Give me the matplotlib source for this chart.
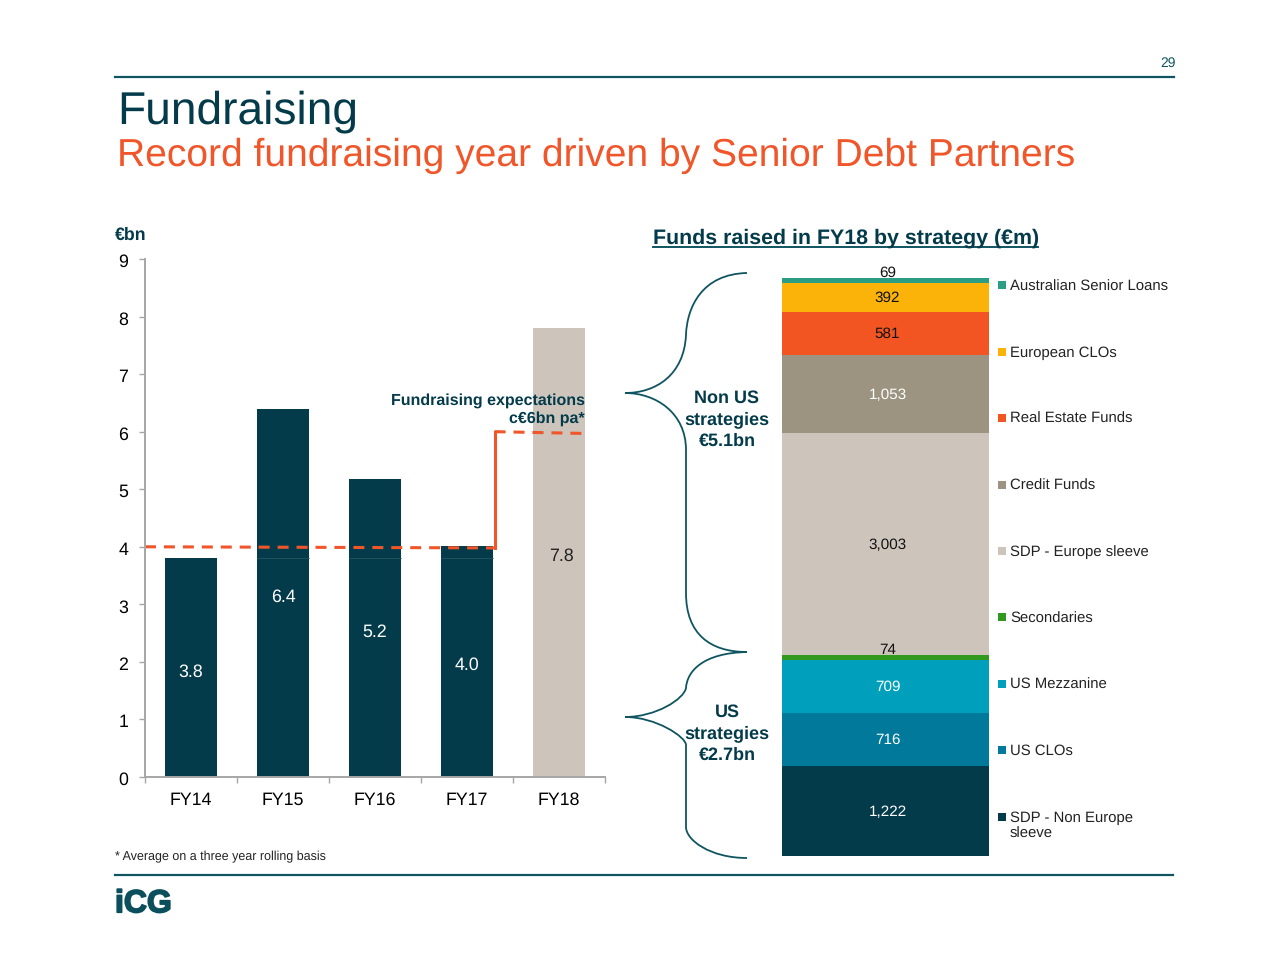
import matplotlib
matplotlib.use('Agg')
import matplotlib.pyplot as plt
import matplotlib.patheffects as pe
from matplotlib.path import Path
from matplotlib.patches import PathPatch, Rectangle
from matplotlib.transforms import ScaledTranslation

plt.rcParams['font.family'] = ['Liberation Sans', 'DejaVu Sans']
plt.rcParams['text.hinting'] = 'no_hinting'

# left chart
years = ['FY14', 'FY15', 'FY16', 'FY17', 'FY18']
raised = [3.8, 6.4, 5.18, 4.02, 7.8]
raised_labels = ['3.8', '6.4', '5.2', '4.0', '7.8']
expect_old_x = [-0.5, 3.3]
expect_old_y = [4.0, 3.98]
expect_new_x = [3.3, 4.25]
expect_new_y = [6.0, 5.97]

# right stacked bar, bottom to top
strategies = ['SDP - Non Europe\nsleeve', 'US CLOs', 'US Mezzanine', 'Secondaries',
              'SDP - Europe sleeve', 'Credit Funds', 'Real Estate Funds',
              'European CLOs', 'Australian Senior Loans']
amounts = [1222, 716, 709, 74, 3003, 1053, 581, 392, 69]
amount_colors = ['#033b4a', '#00799a', '#00a0bc', '#2f9a1e', '#cdc5bc',
                 '#9c9480', '#f25522', '#fbb309', '#2a9d84']
amount_text = ['#ffffff', '#ffffff', '#ffffff', '#111111', '#111111',
               '#ffffff', '#111111', '#111111', '#111111']

DARK = '#033b4a'
TEAL = '#0f5560'
ORANGE = '#f0562a'
W, H = 1280, 960


def px_axes(fig, x0, y0, x1, y1):
    """Axes from pixel corners, y counted from the top of the slide."""
    return fig.add_axes([x0 / W, 1 - y1 / H, (x1 - x0) / W, (y1 - y0) / H])


def brace(ax, top, shoulder, tip, hip, knee, bottom):
    """Curly brace opening to the right, tip pointing left."""
    x, tip_x, end_x = 686, 625, 747
    verts = [(end_x, top),
             (x + 16, top + 1), (x + 1, top + (shoulder - top) * 0.55), (x, shoulder),
             (x - 2, tip - 18), (x - 30, tip), (tip_x, tip),
             (x - 30, tip), (x, tip + 20), (x, hip),
             (x, knee),
             (x, bottom - 18), (x + 24, bottom), (end_x, bottom)]
    codes = [Path.MOVETO,
             Path.CURVE4, Path.CURVE4, Path.CURVE4,
             Path.CURVE4, Path.CURVE4, Path.CURVE4,
             Path.CURVE4, Path.CURVE4, Path.CURVE4,
             Path.LINETO,
             Path.CURVE4, Path.CURVE4, Path.CURVE4]
    ax.add_patch(PathPatch(Path(verts, codes), fc='none', ec=TEAL, lw=1.3))


fig = plt.figure(figsize=(12.8, 9.6), dpi=100)

# slide furniture, in pixels
page = fig.add_axes([0, 0, 1, 1])
page.set_xlim(0, W)
page.set_ylim(H, 0)
page.axis('off')
page.plot([115, 1174], [76.5, 76.5], color=TEAL, lw=1.6)
page.plot([115, 1173], [875, 875], color=TEAL, lw=1.6)
page.text(1176, 63, '29', color=TEAL, fontsize=10, ha='right', va='center')
page.text(117, 112, 'Fundraising', color=DARK, fontsize=33.2, va='center')
page.text(117, 156, 'Record fundraising year driven by Senior Debt Partners',
          color=ORANGE, fontsize=28.1, va='center')
page.text(115, 235, '€bn', color=DARK, fontsize=12.8, weight='bold', va='center')
page.text(653, 238, 'Funds raised in FY18 by strategy (€m)', color=DARK,
          fontsize=15.4, weight='bold', va='center')
page.plot([653, 1038], [247, 247], color=TEAL, lw=1.4)
page.text(115, 857, '* Average on a three year rolling basis', color='#222222',
          fontsize=9, va='center')
page.text(115, 904, 'iCG', color='#0b4f5c', fontsize=23, weight='bold', va='center',
          path_effects=[pe.withStroke(linewidth=1.2, foreground='#0b4f5c')])

brace(page, 273, 335, 393, 450, 593, 652)
brace(page, 652, 688, 717, 745, 827, 858)
page.text(727, 420, 'Non US\nstrategies\n€5.1bn', color=DARK, fontsize=13,
          weight='bold', ha='center', va='center', linespacing=1.36)
page.text(727, 734, 'US\nstrategies\n€2.7bn', color=DARK, fontsize=13,
          weight='bold', ha='center', va='center', linespacing=1.36)

# bar chart
ax = px_axes(fig, 145, 259, 605, 777)
ax.patch.set_alpha(0)
colors = [DARK] * 4 + ['#cdc5bc']
bars = ax.bar(range(5), raised, width=0.57, color=colors)
ax.set_xlim(-0.5, 4.5)
ax.set_ylim(0, 9)
ax.set_xticks([i - 0.5 for i in range(6)])
ax.set_xticklabels([])
ax.set_xticks(range(5), minor=True)
ax.set_xticklabels(years, minor=True, fontsize=12.8)
ax.tick_params(axis='x', which='minor', length=0, pad=11)
ax.tick_params(axis='both', which='major', length=4, width=1, color='#a6a6a6')
ax.tick_params(axis='y', labelsize=12.8, pad=8)
# y tick labels sit a touch below their ticks on the slide
nudge = ScaledTranslation(0, -1.5 / 100, fig.dpi_scale_trans)
for lab in ax.get_yticklabels():
    lab.set_transform(lab.get_transform() + nudge)
for side in ('top', 'right'):
    ax.spines[side].set_visible(False)
for side in ('left', 'bottom'):
    ax.spines[side].set_color('#a6a6a6')
    ax.spines[side].set_linewidth(1.4)
for i, (val, lab) in enumerate(zip(raised, raised_labels)):
    is_last = i == len(raised) - 1
    ax.text(i + (0.03 if is_last else 0), val / 2 - 0.07, lab, ha='center', va='center',
            fontsize=12.8, color='#222222' if is_last else 'white')

# faint seam the slide shows across the taller dark bars
for b in bars[1:4]:
    ax.plot([b.get_x(), b.get_x() + b.get_width()], [raised[0]] * 2,
            color='#2a5a67', lw=0.5)

ax.plot(expect_old_x, expect_old_y, color=ORANGE, lw=2.2, dashes=(3.6, 2.6))
ax.plot(expect_new_x, expect_new_y, color=ORANGE, lw=2.2, dashes=(3.6, 2.6))
ax.plot([expect_old_x[-1]] * 2, [expect_old_y[-1], expect_new_y[0]], color=ORANGE, lw=2.2)
ax.text(4.28, 6.09, 'Fundraising expectations\nc€6bn pa*', color=DARK, fontsize=11.5,
        weight='bold', ha='right', va='bottom', linespacing=1.27)

# stacked bar
ax2 = px_axes(fig, 782, 278, 989, 856)
ax2.axis('off')
ax2.set_xlim(0, 1)
ax2.set_ylim(0, sum(amounts))
bottom = 0
for val, col, tc in zip(amounts, amount_colors, amount_text):
    ax2.bar(0.5, val, width=1, bottom=bottom, color=col)
    # thin slices carry their label just above the slice
    y = bottom + val + 70 if val < 100 else bottom + val / 2 - 12
    ax2.text(0.51, y, f'{val:,}', ha='center', va='center',
             fontsize=11, color=tc, clip_on=False)
    bottom += val

# legend, spaced evenly down the column
for i, (name, col) in enumerate(zip(strategies, amount_colors)):
    y = 816.5 - i * 66.4
    page.add_patch(Rectangle((998, y - 4), 8, 8, fc=col, ec='none'))
    page.text(1010, y + (9.5 if i == 0 else 1.2), name, fontsize=10.7, color='#222222',
              va='center', linespacing=1.25)

fig.savefig('out.png', dpi=100)
